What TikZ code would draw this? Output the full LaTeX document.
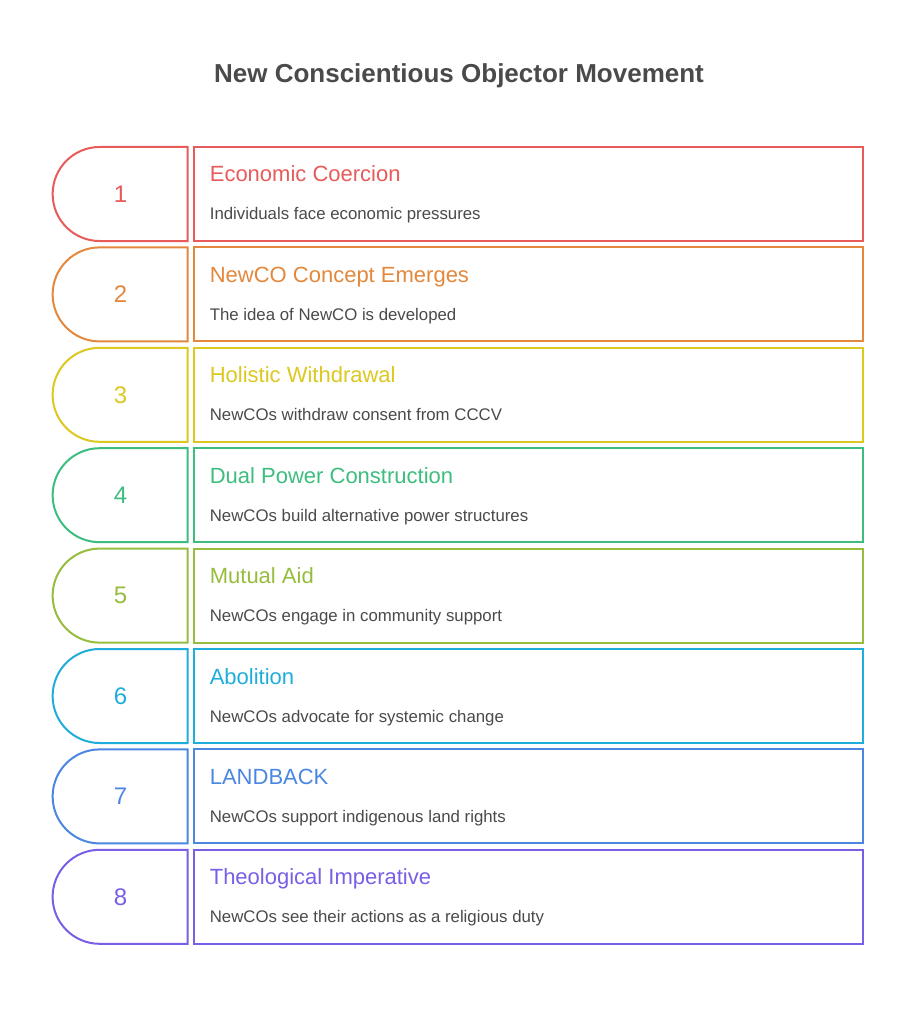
\documentclass[tikz,border=0pt]{standalone}
\usepackage{fontspec}
\setmainfont{Liberation Sans}
\usetikzlibrary{positioning,shapes.misc}

\definecolor{inkgray}{HTML}{4A4A4A}
\definecolor{stepred}{HTML}{E85B5B}
\definecolor{steporange}{HTML}{E3883C}
\definecolor{stepyellow}{HTML}{DCC81F}
\definecolor{stepgreen}{HTML}{3DBE7E}
\definecolor{steplime}{HTML}{97BD3E}
\definecolor{stepcyan}{HTML}{1FAEDB}
\definecolor{stepblue}{HTML}{4B87E0}
\definecolor{steppurple}{HTML}{7A5FE6}

\begin{document}
\begin{tikzpicture}[
    x=1pt, y=1pt,
    node distance=4.4pt and 4pt,
    tab/.style={draw=#1, line width=2pt, shape=rounded rectangle, rounded rectangle right arc=none, minimum width=135pt, minimum height=94pt, inner sep=0pt, text=#1, font=\fontsize{24}{28}\selectfont},
    card/.style={draw=#1, line width=2pt, rectangle, minimum width=669pt, minimum height=94pt, inner sep=0pt},
    head/.style={anchor=base west, inner sep=0pt, text=#1, font=\fontsize{22}{26}\selectfont},
    desc/.style={anchor=base west, inner sep=0pt, text=inkgray, font=\fontsize{16.8}{20}\selectfont},
    title/.style={anchor=base, inner sep=0pt, text=inkgray, font=\bfseries\fontsize{26}{30}\selectfont}
]

\fill[white] (0,0) rectangle (917,-1024);
\useasboundingbox (0,0) rectangle (917,-1024);

% Titulo
\node[title] (title) at (459,-83) {New Conscientious Objector Movement};

% Abas numeradas (coluna da esquerda)
\node[tab=stepred] (tab1) at (120.5,-194) {1};
\node[tab=steporange, below=of tab1] (tab2) {2};
\node[tab=stepyellow, below=of tab2] (tab3) {3};
\node[tab=stepgreen, below=of tab3] (tab4) {4};
\node[tab=steplime, below=of tab4] (tab5) {5};
\node[tab=stepcyan, below=of tab5] (tab6) {6};
\node[tab=stepblue, below=of tab6] (tab7) {7};
\node[tab=steppurple, below=of tab7] (tab8) {8};

% Cartoes (coluna da direita)
\node[card=stepred, right=of tab1] (card1) {};
\node[card=steporange, right=of tab2] (card2) {};
\node[card=stepyellow, right=of tab3] (card3) {};
\node[card=stepgreen, right=of tab4] (card4) {};
\node[card=steplime, right=of tab5] (card5) {};
\node[card=stepcyan, right=of tab6] (card6) {};
\node[card=stepblue, right=of tab7] (card7) {};
\node[card=steppurple, right=of tab8] (card8) {};

% Titulos dos cartoes
\node[head=stepred] (head1) at ([xshift=17pt,yshift=12pt]card1.west) {Economic Coercion};
\node[head=steporange] (head2) at ([xshift=17pt,yshift=12pt]card2.west) {NewCO Concept Emerges};
\node[head=stepyellow] (head3) at ([xshift=17pt,yshift=12pt]card3.west) {Holistic Withdrawal};
\node[head=stepgreen] (head4) at ([xshift=17pt,yshift=12pt]card4.west) {Dual Power Construction};
\node[head=steplime] (head5) at ([xshift=17pt,yshift=12pt]card5.west) {Mutual Aid};
\node[head=stepcyan] (head6) at ([xshift=17pt,yshift=12pt]card6.west) {Abolition};
\node[head=stepblue] (head7) at ([xshift=17pt,yshift=12pt]card7.west) {LANDBACK};
\node[head=steppurple] (head8) at ([xshift=17pt,yshift=12pt]card8.west) {Theological Imperative};

% Descricoes
\node[desc] (desc1) at ([xshift=17pt,yshift=-26pt]card1.west) {Individuals face economic pressures};
\node[desc] (desc2) at ([xshift=17pt,yshift=-26pt]card2.west) {The idea of NewCO is developed};
\node[desc] (desc3) at ([xshift=17pt,yshift=-26pt]card3.west) {NewCOs withdraw consent from CCCV};
\node[desc] (desc4) at ([xshift=17pt,yshift=-26pt]card4.west) {NewCOs build alternative power structures};
\node[desc] (desc5) at ([xshift=17pt,yshift=-26pt]card5.west) {NewCOs engage in community support};
\node[desc] (desc6) at ([xshift=17pt,yshift=-26pt]card6.west) {NewCOs advocate for systemic change};
\node[desc] (desc7) at ([xshift=17pt,yshift=-26pt]card7.west) {NewCOs support indigenous land rights};
\node[desc] (desc8) at ([xshift=17pt,yshift=-26pt]card8.west) {NewCOs see their actions as a religious duty};

\end{tikzpicture}
\end{document}
